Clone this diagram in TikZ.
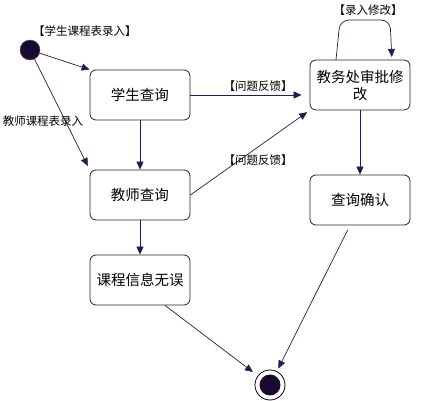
\documentclass[tikz,border=0pt]{standalone}
\usepackage{fontspec}
\setmainfont{Noto Sans CJK SC}
\usetikzlibrary{arrows.meta,calc}
\definecolor{ln}{HTML}{2A1A4A}
\definecolor{dot}{HTML}{1A0A30}
\begin{document}
\begin{tikzpicture}[x=1pt,y=-1pt,
  statebox/.style={draw=black!85,line width=0.8pt,rounded corners=6pt,minimum width=100pt,minimum height=50pt,inner sep=2pt,font=\fontsize{14.5}{17}\selectfont,align=center,text width=92pt},
  flow/.style={draw=ln,line width=0.7pt,-{Triangle[length=8pt,width=7pt]}},
  lbl/.style={font=\fontsize{11.5}{13}\selectfont,inner sep=0pt}]
\useasboundingbox (0,0) rectangle (421,401);
\node[circle,fill=dot,draw=black!70,minimum size=20pt,inner sep=0pt] (start) at (30,50) {};
\node[statebox] (sq) at (140,95) {学生查询};
\node[statebox] (tc) at (140,195) {教师查询};
\node[statebox] (kc) at (140,280) {课程信息无误};
\node[statebox] (js) at (360,85) {教务处审批修\\改};
\node[statebox] (cx) at (360,200) {查询确认};
\node[circle,draw=black,line width=0.8pt,fill=white,minimum size=30pt,inner sep=0pt] (end) at (270,385) {};
\node[circle,fill=dot,minimum size=21pt,inner sep=0pt] (endin) at (end) {};
\coordinate (loopA) at (336,60);
\coordinate (loopB) at (392,60);
\node[lbl] (l1) at (85,31) {【学生课程表录入】};
\node[lbl] (l2) at (43,121) {教师课程表录入};
\node[lbl] (l3) at (258,86) {【问题反馈】};
\node[lbl] (l4) at (258,160) {【问题反馈】};
\node[lbl] (l5) at (368,10) {【录入修改】};
\draw[flow] (start) -- (sq.north west);
\draw[flow,shorten >=4pt] (start) -- (tc.north west);
\draw[flow] (sq) -- (tc);
\draw[flow,shorten >=8pt] (sq.east) -- (sq.east -| js.west);
\draw[flow,shorten >=3pt] (tc.east) -- (js.south west);
\draw[flow,rounded corners=9pt,shorten >=3pt] (loopA) -- (340,20) -- (390,20) -- (loopB);
\draw[flow] (js) -- (cx);
\draw[flow] (tc) -- (kc);
\draw[flow,shorten >=6pt] ($(kc.south)+(25,0)$) -- (end);
\draw[flow,shorten <=5pt,shorten >=3pt] ($(cx.south)+(-10,0)$) -- (end);
\end{tikzpicture}
\end{document}
